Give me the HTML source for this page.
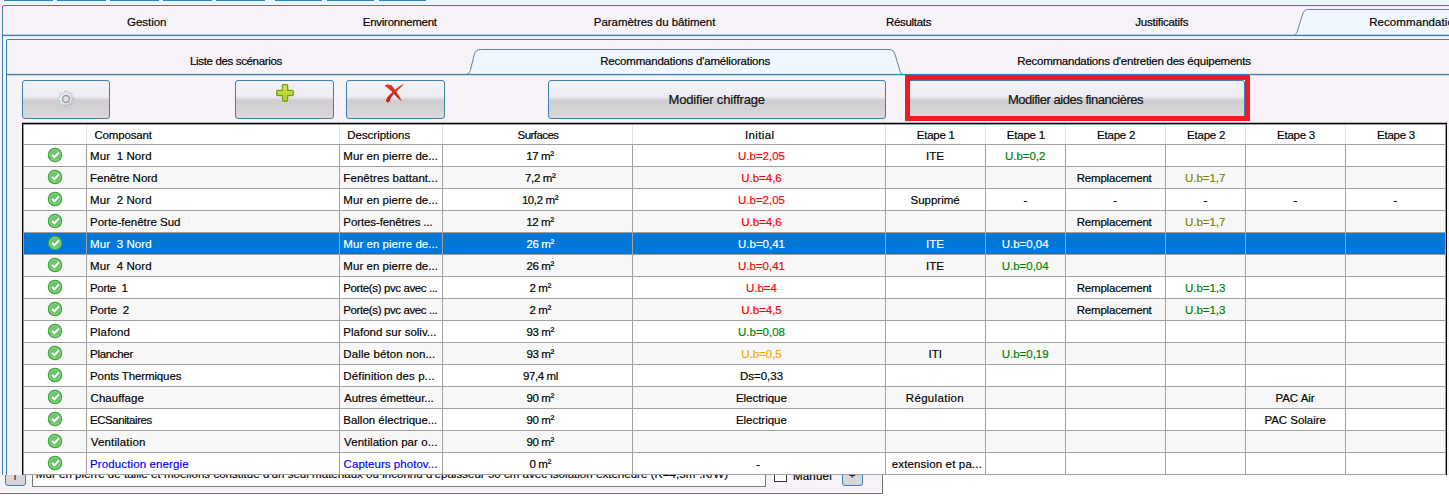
<!DOCTYPE html>
<html><head><meta charset="utf-8"><title>Recommandations</title>
<style>
html,body{margin:0;padding:0;}
body{width:1449px;height:496px;overflow:hidden;background:#F6F2F7;position:relative;font-family:"Liberation Sans",sans-serif;font-size:11.5px;}
.a{position:absolute;}
.t{position:absolute;white-space:pre;line-height:16px;height:16px;-webkit-text-stroke:0.18px currentColor;}
.btn{position:absolute;box-sizing:border-box;border:1px solid #3C7FB1;border-radius:3px;
 background:linear-gradient(to bottom,#F4F2F9 0%,#EFEDF4 40%,#EAE8EE 43.5%,#CFCDD0 52%,#D3D1D4 75%,#DBD9DB 100%);}
.seg{position:absolute;top:0;height:1px;background:#3C7FB1;}
.hl{position:absolute;height:1px;background:#A0A0A0;}
.vl{position:absolute;width:1px;background:#A0A0A0;}
#root{position:relative;width:1449px;height:496px;overflow:hidden;background:#F6F2F7;}
</style></head><body><div id="root">

<div class="seg" style="left:4px;width:49px"></div>
<div class="seg" style="left:57px;width:49px"></div>
<div class="seg" style="left:110px;width:49px"></div>
<div class="seg" style="left:163px;width:49px"></div>
<div class="seg" style="left:216px;width:49px"></div>
<div class="seg" style="left:275px;width:47px"></div>
<div class="seg" style="left:327px;width:47px"></div>
<div class="seg" style="left:379px;width:47px"></div>
<div class="a" style="left:2px;top:5px;width:1500px;height:520px;box-sizing:border-box;border:1.3px solid #3C7FB1;border-radius:2px 0 0 0"></div>
<div class="a" style="left:6px;top:39px;width:1500px;height:520px;box-sizing:border-box;border:1.3px solid #3C7FB1;border-radius:2px 0 0 0"></div>
<svg class="a" style="left:0;top:0" width="1449" height="80" viewBox="0 0 1449 80">
<path d="M1294.3 35 C1296 34.7 1296.8 33 1297.4 31 L1302.6 14.2 C1303.5 11.3 1305 9.5 1308.5 9.5 L1460 9.5 L1460 35 Z" fill="#EFF6FE"/>
<path d="M1294.3 35 C1296 34.7 1296.8 33 1297.4 31 L1302.6 14.2 C1303.5 11.3 1305 9.5 1308.5 9.5 L1460 9.5" fill="none" stroke="#6B7F93" stroke-width="1"/>
<path d="M467 74 C469.2 73.6 469.8 72 470.4 70 L474.4 54.3 C475.2 51.2 476.8 49.5 480.5 49.5 L888.8 49.5 C892.5 49.5 894.2 51.2 895 54.3 L899.7 70 C900.3 72 900.9 73.6 902.5 74 Z" fill="#EFF6FE"/>
<path d="M467 74 C469.2 73.6 469.8 72 470.4 70 L474.4 54.3 C475.2 51.2 476.8 49.5 480.5 49.5 L888.8 49.5 C892.5 49.5 894.2 51.2 895 54.3 L899.7 70 C900.3 72 900.9 73.6 902.5 74" fill="none" stroke="#6B7F93" stroke-width="1"/>
<rect x="3" y="34.7" width="1450" height="1.4" fill="#3C7FB1"/>
<rect x="7" y="73.9" width="1450" height="1.3" fill="#3C7FB1"/>
</svg>
<span class="t" id="t0" style="left:127.05px;top:14.00px;font-size:11.5px;letter-spacing:-0.040px;color:#000;">Gestion</span>
<span class="t" id="t1" style="left:362.75px;top:14.00px;font-size:11.5px;letter-spacing:-0.257px;color:#000;">Environnement</span>
<span class="t" id="t2" style="left:593.85px;top:14.00px;font-size:11.5px;letter-spacing:-0.056px;color:#000;">Paramètres du bâtiment</span>
<span class="t" id="t3" style="left:886.05px;top:14.00px;font-size:11.5px;letter-spacing:-0.326px;color:#000;">Résultats</span>
<span class="t" id="t4" style="left:1135.30px;top:14.00px;font-size:11.5px;letter-spacing:-0.252px;color:#000;">Justificatifs</span>
<span class="t" id="t5" style="left:1369.20px;top:14.00px;font-size:11.5px;letter-spacing:0.077px;color:#000;">Recommandations</span>
<span class="t" id="t6" style="left:190.05px;top:53.00px;font-size:11.5px;letter-spacing:-0.350px;color:#000;">Liste des scénarios</span>
<span class="t" id="t7" style="left:600.25px;top:53.00px;font-size:11.5px;letter-spacing:-0.204px;color:#000;">Recommandations d&#x27;améliorations</span>
<span class="t" id="t8" style="left:1017.20px;top:53.00px;font-size:11.5px;letter-spacing:-0.224px;color:#000;">Recommandations d&#x27;entretien des équipements</span>
<div class="btn" style="left:22px;top:80px;width:88px;height:39px"></div>
<div class="btn" style="left:235px;top:80px;width:99px;height:39px"></div>
<div class="btn" style="left:346px;top:80px;width:99px;height:39px"></div>
<div class="btn" style="left:548px;top:80px;width:338px;height:39px"></div>
<div class="btn" style="left:906px;top:80px;width:338.5px;height:39px"></div>
<span class="t" id="t9" style="left:668.60px;top:91.50px;font-size:13px;letter-spacing:-0.175px;color:#111;">Modifier chiffrage</span>
<span class="t" id="t10" style="left:1007.90px;top:91.50px;font-size:13px;letter-spacing:-0.468px;color:#111;">Modifier aides financières</span>
<div class="a" style="left:905px;top:75px;width:345px;height:46px;box-sizing:border-box;border:5px solid #ED1C24"></div>
<svg class="a" style="left:56px;top:89px" width="20" height="20" viewBox="-10 -10 20 20">
<defs><linearGradient id="gg" x1="0" y1="0" x2="1" y2="1"><stop offset="0" stop-color="#F4F6F6"/><stop offset="0.55" stop-color="#DADFE0"/><stop offset="1" stop-color="#AEBABE"/></linearGradient></defs>
<path fill="url(#gg)" stroke="#B3B9BB" stroke-width="0.7" stroke-linejoin="round" d="M7.91 -1.18 L7.91 1.18 L6.31 1.57 L5.57 3.35 L6.43 4.76 L4.76 6.43 L3.35 5.57 L1.57 6.31 L1.18 7.91 L-1.18 7.91 L-1.57 6.31 L-3.35 5.57 L-4.76 6.43 L-6.43 4.76 L-5.57 3.35 L-6.31 1.57 L-7.91 1.18 L-7.91 -1.18 L-6.31 -1.57 L-5.57 -3.35 L-6.43 -4.76 L-4.76 -6.43 L-3.35 -5.57 L-1.57 -6.31 L-1.18 -7.91 L1.18 -7.91 L1.57 -6.31 L3.35 -5.57 L4.76 -6.43 L6.43 -4.76 L5.57 -3.35 L6.31 -1.57 Z"/>
<circle r="4.7" fill="none" stroke="#F6F8F8" stroke-width="0.9" opacity="0.8"/>
<circle r="3.4" fill="#E4E2E6" stroke="#959B9D" stroke-width="1.5"/>
</svg>
<svg class="a" style="left:270px;top:78px" width="30" height="30" viewBox="270 78 30 30">
<defs><linearGradient id="pg" x1="0" y1="0" x2="0" y2="1"><stop offset="0" stop-color="#D6EC5C"/><stop offset="0.5" stop-color="#B9D636"/><stop offset="1" stop-color="#A7C828"/></linearGradient></defs>
<path d="M283.30 84.70 H286.70 Q287.70 84.70 287.70 85.70 V90.30 H292.30 Q293.30 90.30 293.30 91.30 V94.70 Q293.30 95.70 292.30 95.70 H287.70 V100.30 Q287.70 101.30 286.70 101.30 H283.30 Q282.30 101.30 282.30 100.30 V95.70 H277.70 Q276.70 95.70 276.70 94.70 V91.30 Q276.70 90.30 277.70 90.30 H282.30 V85.70 Q282.30 84.70 283.30 84.70 Z" fill="none" stroke="#F4F6EE" stroke-width="2.6" opacity="0.7"/>
<path d="M283.30 84.70 H286.70 Q287.70 84.70 287.70 85.70 V90.30 H292.30 Q293.30 90.30 293.30 91.30 V94.70 Q293.30 95.70 292.30 95.70 H287.70 V100.30 Q287.70 101.30 286.70 101.30 H283.30 Q282.30 101.30 282.30 100.30 V95.70 H277.70 Q276.70 95.70 276.70 94.70 V91.30 Q276.70 90.30 277.70 90.30 H282.30 V85.70 Q282.30 84.70 283.30 84.70 Z" fill="url(#pg)" stroke="#709B13" stroke-width="1.2"/>
</svg>
<svg class="a" style="left:375px;top:78px" width="40" height="30" viewBox="375 78 40 30">
<defs><linearGradient id="xg" x1="0" y1="0" x2="0" y2="1"><stop offset="0" stop-color="#E0392B"/><stop offset="1" stop-color="#C21D11"/></linearGradient></defs>
<path d="M384.9 85.9 C385.8 84.4 388.2 84 391.6 85.3 C393.4 87.4 394.8 89.6 395.9 91.4 C398.2 94.6 400.4 97.8 401.8 101 C399.3 99.6 396.4 96.9 393.2 93 C390.6 90.2 387.8 87.8 384.9 85.9 Z" fill="url(#xg)"/>
<path d="M404.3 84 C400.8 85.2 397.2 87.6 394.2 90.4 C390.6 93.6 387.2 96.8 386.2 99.4 C385.7 101.3 386.9 102.5 388.4 102.3 C389.7 101.9 390.1 100.7 390.4 99.3 C391.2 96.9 393.4 94.4 396 92.1 C398.8 89.3 401.4 86.5 404.3 84 Z" fill="url(#xg)"/>
</svg>
<div class="a" style="left:24px;top:125px;width:1422px;height:350px;background:#fff"></div>
<div class="a" style="left:24px;top:167px;width:1422px;height:21px;background:#F7F7F7"></div>
<div class="a" style="left:24px;top:211px;width:1422px;height:21px;background:#F7F7F7"></div>
<div class="a" style="left:24px;top:233px;width:1422px;height:21px;background:#0078D7"></div>
<div class="a" style="left:24px;top:255px;width:1422px;height:21px;background:#F7F7F7"></div>
<div class="a" style="left:24px;top:299px;width:1422px;height:21px;background:#F7F7F7"></div>
<div class="a" style="left:24px;top:343px;width:1422px;height:21px;background:#F7F7F7"></div>
<div class="a" style="left:24px;top:387px;width:1422px;height:21px;background:#F7F7F7"></div>
<div class="a" style="left:24px;top:431px;width:1422px;height:21px;background:#F7F7F7"></div>
<div class="hl" style="left:24px;top:144px;width:1422px"></div>
<div class="hl" style="left:24px;top:166px;width:1422px"></div>
<div class="hl" style="left:24px;top:188px;width:1422px"></div>
<div class="hl" style="left:24px;top:210px;width:1422px"></div>
<div class="hl" style="left:24px;top:232px;width:1422px"></div>
<div class="hl" style="left:24px;top:254px;width:1422px"></div>
<div class="hl" style="left:24px;top:276px;width:1422px"></div>
<div class="hl" style="left:24px;top:298px;width:1422px"></div>
<div class="hl" style="left:24px;top:320px;width:1422px"></div>
<div class="hl" style="left:24px;top:342px;width:1422px"></div>
<div class="hl" style="left:24px;top:364px;width:1422px"></div>
<div class="hl" style="left:24px;top:386px;width:1422px"></div>
<div class="hl" style="left:24px;top:408px;width:1422px"></div>
<div class="hl" style="left:24px;top:430px;width:1422px"></div>
<div class="hl" style="left:24px;top:452px;width:1422px"></div>
<div class="hl" style="left:24px;top:474px;width:1422px"></div>
<div class="vl" style="left:86px;top:145px;height:330px"></div>
<div class="vl" style="left:86px;top:125px;height:19px;background:#E2E2E2"></div>
<div class="vl" style="left:339px;top:145px;height:330px"></div>
<div class="vl" style="left:339px;top:125px;height:19px;background:#E2E2E2"></div>
<div class="vl" style="left:442px;top:145px;height:330px"></div>
<div class="vl" style="left:442px;top:125px;height:19px;background:#E2E2E2"></div>
<div class="vl" style="left:632px;top:145px;height:330px"></div>
<div class="vl" style="left:632px;top:125px;height:19px;background:#E2E2E2"></div>
<div class="vl" style="left:885px;top:145px;height:330px"></div>
<div class="vl" style="left:885px;top:125px;height:19px;background:#E2E2E2"></div>
<div class="vl" style="left:985px;top:145px;height:330px"></div>
<div class="vl" style="left:985px;top:125px;height:19px;background:#E2E2E2"></div>
<div class="vl" style="left:1065px;top:145px;height:330px"></div>
<div class="vl" style="left:1065px;top:125px;height:19px;background:#E2E2E2"></div>
<div class="vl" style="left:1165px;top:145px;height:330px"></div>
<div class="vl" style="left:1165px;top:125px;height:19px;background:#E2E2E2"></div>
<div class="vl" style="left:1245px;top:145px;height:330px"></div>
<div class="vl" style="left:1245px;top:125px;height:19px;background:#E2E2E2"></div>
<div class="vl" style="left:1345px;top:145px;height:330px"></div>
<div class="vl" style="left:1345px;top:125px;height:19px;background:#E2E2E2"></div>
<div class="vl" style="left:1445px;top:145px;height:330px"></div>
<div class="vl" style="left:1445px;top:125px;height:19px"></div>
<div class="a" style="left:22px;top:124px;width:1425px;height:1px;background:#A0A0A0"></div>
<div class="a" style="left:23px;top:124px;width:1px;height:351px;background:#9A9A9A"></div>
<div class="a" style="left:22px;top:122px;width:1425px;height:1px;background:#B9B6BA"></div>
<div class="a" style="left:22px;top:123px;width:1425px;height:1px;background:#000"></div>
<div class="a" style="left:22px;top:123px;width:1px;height:352px;background:#000"></div>
<div class="a" style="left:1446px;top:123px;width:1px;height:352px;background:#000"></div>
<span class="t" id="t11" style="left:94.45px;top:127.00px;font-size:11.5px;letter-spacing:-0.169px;color:#000;">Composant</span>
<span class="t" id="t12" style="left:347.25px;top:127.00px;font-size:11.5px;letter-spacing:-0.031px;color:#000;">Descriptions</span>
<span class="t" id="t13" style="left:517.60px;top:127.00px;font-size:11.5px;letter-spacing:-0.571px;color:#000;">Surfaces</span>
<span class="t" id="t14" style="left:745.05px;top:127.00px;font-size:11.5px;letter-spacing:0.344px;color:#000;">Initial</span>
<span class="t" id="t15" style="left:916.85px;top:127.00px;font-size:11.5px;letter-spacing:-0.252px;color:#000;">Etape 1</span>
<span class="t" id="t16" style="left:1006.75px;top:127.00px;font-size:11.5px;letter-spacing:-0.211px;color:#000;">Etape 1</span>
<span class="t" id="t17" style="left:1097.05px;top:127.00px;font-size:11.5px;letter-spacing:-0.211px;color:#000;">Etape 2</span>
<span class="t" id="t18" style="left:1187.05px;top:127.00px;font-size:11.5px;letter-spacing:-0.211px;color:#000;">Etape 2</span>
<span class="t" id="t19" style="left:1277.05px;top:127.00px;font-size:11.5px;letter-spacing:-0.252px;color:#000;">Etape 3</span>
<span class="t" id="t20" style="left:1377.05px;top:127.00px;font-size:11.5px;letter-spacing:-0.252px;color:#000;">Etape 3</span>
<svg class="a" style="left:47px;top:147.3px" width="16" height="16" viewBox="-8 -8 16 16">
<circle r="6.6" fill="#6DC56B" stroke="#3DA53A" stroke-width="1.3"/>
<circle r="5.5" fill="none" stroke="#A7DDA5" stroke-width="0.6"/>
<path d="M-2.9 -0.1 L-0.6 2.2 L3.9 -2.6" fill="none" stroke="#fff" stroke-width="2"/>
</svg>
<span class="t" id="t21" style="left:90.05px;top:148.00px;font-size:11.5px;letter-spacing:0.085px;color:#000;">Mur &nbsp;1 Nord</span>
<span class="t" id="t22" style="left:343.35px;top:148.00px;font-size:11.5px;letter-spacing:0.033px;color:#000;">Mur en pierre de...</span>
<span class="t" id="t23" style="left:526.34px;top:148.00px;font-size:11.5px;letter-spacing:-0.423px;color:#000;">17 m<span style="position:relative;top:-1.3px">²</span></span>
<span class="t" id="t24" style="left:738.09px;top:148.00px;font-size:11.5px;letter-spacing:-0.020px;color:#FA0000;">U.b=2,05</span>
<span class="t" id="t25" style="left:926.09px;top:148.00px;font-size:11.5px;letter-spacing:-0.021px;color:#000;">ITE</span>
<span class="t" id="t26" style="left:1004.95px;top:148.00px;font-size:11.5px;letter-spacing:-0.020px;color:#008000;">U.b=0,2</span>
<svg class="a" style="left:47px;top:169.3px" width="16" height="16" viewBox="-8 -8 16 16">
<circle r="6.6" fill="#6DC56B" stroke="#3DA53A" stroke-width="1.3"/>
<circle r="5.5" fill="none" stroke="#A7DDA5" stroke-width="0.6"/>
<path d="M-2.9 -0.1 L-0.6 2.2 L3.9 -2.6" fill="none" stroke="#fff" stroke-width="2"/>
</svg>
<span class="t" id="t27" style="left:90.05px;top:170.00px;font-size:11.5px;letter-spacing:-0.032px;color:#000;">Fenêtre Nord</span>
<span class="t" id="t28" style="left:343.35px;top:170.00px;font-size:11.5px;letter-spacing:0.064px;color:#000;">Fenêtres battant...</span>
<span class="t" id="t29" style="left:525.10px;top:170.00px;font-size:11.5px;letter-spacing:-0.391px;color:#000;">7,2 m<span style="position:relative;top:-1.3px">²</span></span>
<span class="t" id="t30" style="left:741.27px;top:170.00px;font-size:11.5px;letter-spacing:-0.020px;color:#FA0000;">U.b=4,6</span>
<span class="t" id="t31" style="left:1076.75px;top:170.00px;font-size:11.5px;letter-spacing:-0.207px;color:#000;">Remplacement</span>
<span class="t" id="t32" style="left:1184.95px;top:170.00px;font-size:11.5px;letter-spacing:-0.020px;color:#808000;">U.b=1,7</span>
<svg class="a" style="left:47px;top:191.3px" width="16" height="16" viewBox="-8 -8 16 16">
<circle r="6.6" fill="#6DC56B" stroke="#3DA53A" stroke-width="1.3"/>
<circle r="5.5" fill="none" stroke="#A7DDA5" stroke-width="0.6"/>
<path d="M-2.9 -0.1 L-0.6 2.2 L3.9 -2.6" fill="none" stroke="#fff" stroke-width="2"/>
</svg>
<span class="t" id="t33" style="left:90.05px;top:192.00px;font-size:11.5px;letter-spacing:0.085px;color:#000;">Mur &nbsp;2 Nord</span>
<span class="t" id="t34" style="left:343.35px;top:192.00px;font-size:11.5px;letter-spacing:0.033px;color:#000;">Mur en pierre de...</span>
<span class="t" id="t35" style="left:521.89px;top:192.00px;font-size:11.5px;letter-spacing:-0.401px;color:#000;">10,2 m<span style="position:relative;top:-1.3px">²</span></span>
<span class="t" id="t36" style="left:738.09px;top:192.00px;font-size:11.5px;letter-spacing:-0.020px;color:#FA0000;">U.b=2,05</span>
<span class="t" id="t37" style="left:910.60px;top:192.00px;font-size:11.5px;letter-spacing:-0.021px;color:#000;">Supprimé</span>
<span class="t" id="t38" style="left:1023.52px;top:192.00px;font-size:11.5px;letter-spacing:-0.013px;color:#000;">-</span>
<span class="t" id="t39" style="left:1113.22px;top:192.00px;font-size:11.5px;letter-spacing:-0.013px;color:#000;">-</span>
<span class="t" id="t40" style="left:1203.52px;top:192.00px;font-size:11.5px;letter-spacing:-0.013px;color:#000;">-</span>
<span class="t" id="t41" style="left:1293.52px;top:192.00px;font-size:11.5px;letter-spacing:-0.013px;color:#000;">-</span>
<span class="t" id="t42" style="left:1393.52px;top:192.00px;font-size:11.5px;letter-spacing:-0.013px;color:#000;">-</span>
<svg class="a" style="left:47px;top:213.3px" width="16" height="16" viewBox="-8 -8 16 16">
<circle r="6.6" fill="#6DC56B" stroke="#3DA53A" stroke-width="1.3"/>
<circle r="5.5" fill="none" stroke="#A7DDA5" stroke-width="0.6"/>
<path d="M-2.9 -0.1 L-0.6 2.2 L3.9 -2.6" fill="none" stroke="#fff" stroke-width="2"/>
</svg>
<span class="t" id="t43" style="left:90.05px;top:214.00px;font-size:11.5px;letter-spacing:-0.020px;color:#000;">Porte-fenêtre Sud</span>
<span class="t" id="t44" style="left:343.35px;top:214.00px;font-size:11.5px;letter-spacing:-0.112px;color:#000;">Portes-fenêtres ...</span>
<span class="t" id="t45" style="left:526.34px;top:214.00px;font-size:11.5px;letter-spacing:-0.423px;color:#000;">12 m<span style="position:relative;top:-1.3px">²</span></span>
<span class="t" id="t46" style="left:741.27px;top:214.00px;font-size:11.5px;letter-spacing:-0.020px;color:#FA0000;">U.b=4,6</span>
<span class="t" id="t47" style="left:1076.75px;top:214.00px;font-size:11.5px;letter-spacing:-0.207px;color:#000;">Remplacement</span>
<span class="t" id="t48" style="left:1184.95px;top:214.00px;font-size:11.5px;letter-spacing:-0.020px;color:#808000;">U.b=1,7</span>
<svg class="a" style="left:47px;top:235.3px" width="16" height="16" viewBox="-8 -8 16 16">
<circle r="6.6" fill="#6DC56B" stroke="#3DA53A" stroke-width="1.3"/>
<circle r="5.5" fill="none" stroke="#A7DDA5" stroke-width="0.6"/>
<path d="M-2.9 -0.1 L-0.6 2.2 L3.9 -2.6" fill="none" stroke="#fff" stroke-width="2"/>
</svg>
<span class="t" id="t49" style="left:90.05px;top:236.00px;font-size:11.5px;letter-spacing:0.085px;color:#fff;">Mur &nbsp;3 Nord</span>
<span class="t" id="t50" style="left:343.35px;top:236.00px;font-size:11.5px;letter-spacing:0.033px;color:#fff;">Mur en pierre de...</span>
<span class="t" id="t51" style="left:526.59px;top:236.00px;font-size:11.5px;letter-spacing:-0.423px;color:#fff;">26 m<span style="position:relative;top:-1.3px">²</span></span>
<span class="t" id="t52" style="left:738.09px;top:236.00px;font-size:11.5px;letter-spacing:-0.020px;color:#fff;">U.b=0,41</span>
<span class="t" id="t53" style="left:926.09px;top:236.00px;font-size:11.5px;letter-spacing:-0.021px;color:#fff;">ITE</span>
<span class="t" id="t54" style="left:1001.76px;top:236.00px;font-size:11.5px;letter-spacing:-0.020px;color:#fff;">U.b=0,04</span>
<svg class="a" style="left:47px;top:257.3px" width="16" height="16" viewBox="-8 -8 16 16">
<circle r="6.6" fill="#6DC56B" stroke="#3DA53A" stroke-width="1.3"/>
<circle r="5.5" fill="none" stroke="#A7DDA5" stroke-width="0.6"/>
<path d="M-2.9 -0.1 L-0.6 2.2 L3.9 -2.6" fill="none" stroke="#fff" stroke-width="2"/>
</svg>
<span class="t" id="t55" style="left:90.05px;top:258.00px;font-size:11.5px;letter-spacing:0.085px;color:#000;">Mur &nbsp;4 Nord</span>
<span class="t" id="t56" style="left:343.35px;top:258.00px;font-size:11.5px;letter-spacing:0.033px;color:#000;">Mur en pierre de...</span>
<span class="t" id="t57" style="left:526.59px;top:258.00px;font-size:11.5px;letter-spacing:-0.423px;color:#000;">26 m<span style="position:relative;top:-1.3px">²</span></span>
<span class="t" id="t58" style="left:738.09px;top:258.00px;font-size:11.5px;letter-spacing:-0.020px;color:#FA0000;">U.b=0,41</span>
<span class="t" id="t59" style="left:926.09px;top:258.00px;font-size:11.5px;letter-spacing:-0.021px;color:#000;">ITE</span>
<span class="t" id="t60" style="left:1001.76px;top:258.00px;font-size:11.5px;letter-spacing:-0.020px;color:#008000;">U.b=0,04</span>
<svg class="a" style="left:47px;top:279.3px" width="16" height="16" viewBox="-8 -8 16 16">
<circle r="6.6" fill="#6DC56B" stroke="#3DA53A" stroke-width="1.3"/>
<circle r="5.5" fill="none" stroke="#A7DDA5" stroke-width="0.6"/>
<path d="M-2.9 -0.1 L-0.6 2.2 L3.9 -2.6" fill="none" stroke="#fff" stroke-width="2"/>
</svg>
<span class="t" id="t61" style="left:90.05px;top:280.00px;font-size:11.5px;letter-spacing:-0.345px;color:#000;">Porte &nbsp;1</span>
<span class="t" id="t62" style="left:343.35px;top:280.00px;font-size:11.5px;letter-spacing:-0.393px;color:#000;">Porte(s) pvc avec ...</span>
<span class="t" id="t63" style="left:529.55px;top:280.00px;font-size:11.5px;letter-spacing:-0.414px;color:#000;">2 m<span style="position:relative;top:-1.3px">²</span></span>
<span class="t" id="t64" style="left:745.93px;top:280.00px;font-size:11.5px;letter-spacing:-0.022px;color:#FA0000;">U.b=4</span>
<span class="t" id="t65" style="left:1076.75px;top:280.00px;font-size:11.5px;letter-spacing:-0.207px;color:#000;">Remplacement</span>
<span class="t" id="t66" style="left:1184.95px;top:280.00px;font-size:11.5px;letter-spacing:-0.020px;color:#008000;">U.b=1,3</span>
<svg class="a" style="left:47px;top:301.3px" width="16" height="16" viewBox="-8 -8 16 16">
<circle r="6.6" fill="#6DC56B" stroke="#3DA53A" stroke-width="1.3"/>
<circle r="5.5" fill="none" stroke="#A7DDA5" stroke-width="0.6"/>
<path d="M-2.9 -0.1 L-0.6 2.2 L3.9 -2.6" fill="none" stroke="#fff" stroke-width="2"/>
</svg>
<span class="t" id="t67" style="left:90.05px;top:302.00px;font-size:11.5px;letter-spacing:-0.161px;color:#000;">Porte &nbsp;2</span>
<span class="t" id="t68" style="left:343.35px;top:302.00px;font-size:11.5px;letter-spacing:-0.393px;color:#000;">Porte(s) pvc avec ...</span>
<span class="t" id="t69" style="left:529.55px;top:302.00px;font-size:11.5px;letter-spacing:-0.414px;color:#000;">2 m<span style="position:relative;top:-1.3px">²</span></span>
<span class="t" id="t70" style="left:741.27px;top:302.00px;font-size:11.5px;letter-spacing:-0.020px;color:#FA0000;">U.b=4,5</span>
<span class="t" id="t71" style="left:1076.75px;top:302.00px;font-size:11.5px;letter-spacing:-0.207px;color:#000;">Remplacement</span>
<span class="t" id="t72" style="left:1184.95px;top:302.00px;font-size:11.5px;letter-spacing:-0.020px;color:#008000;">U.b=1,3</span>
<svg class="a" style="left:47px;top:323.3px" width="16" height="16" viewBox="-8 -8 16 16">
<circle r="6.6" fill="#6DC56B" stroke="#3DA53A" stroke-width="1.3"/>
<circle r="5.5" fill="none" stroke="#A7DDA5" stroke-width="0.6"/>
<path d="M-2.9 -0.1 L-0.6 2.2 L3.9 -2.6" fill="none" stroke="#fff" stroke-width="2"/>
</svg>
<span class="t" id="t73" style="left:90.05px;top:324.00px;font-size:11.5px;letter-spacing:0.156px;color:#000;">Plafond</span>
<span class="t" id="t74" style="left:343.35px;top:324.00px;font-size:11.5px;letter-spacing:-0.003px;color:#000;">Plafond sur soliv...</span>
<span class="t" id="t75" style="left:526.59px;top:324.00px;font-size:11.5px;letter-spacing:-0.423px;color:#000;">93 m<span style="position:relative;top:-1.3px">²</span></span>
<span class="t" id="t76" style="left:738.09px;top:324.00px;font-size:11.5px;letter-spacing:-0.020px;color:#008000;">U.b=0,08</span>
<svg class="a" style="left:47px;top:345.3px" width="16" height="16" viewBox="-8 -8 16 16">
<circle r="6.6" fill="#6DC56B" stroke="#3DA53A" stroke-width="1.3"/>
<circle r="5.5" fill="none" stroke="#A7DDA5" stroke-width="0.6"/>
<path d="M-2.9 -0.1 L-0.6 2.2 L3.9 -2.6" fill="none" stroke="#fff" stroke-width="2"/>
</svg>
<span class="t" id="t77" style="left:90.05px;top:346.00px;font-size:11.5px;letter-spacing:-0.309px;color:#000;">Plancher</span>
<span class="t" id="t78" style="left:343.35px;top:346.00px;font-size:11.5px;letter-spacing:0.106px;color:#000;">Dalle béton non...</span>
<span class="t" id="t79" style="left:526.59px;top:346.00px;font-size:11.5px;letter-spacing:-0.423px;color:#000;">93 m<span style="position:relative;top:-1.3px">²</span></span>
<span class="t" id="t80" style="left:741.27px;top:346.00px;font-size:11.5px;letter-spacing:-0.020px;color:#FFA500;">U.b=0,5</span>
<span class="t" id="t81" style="left:928.57px;top:346.00px;font-size:11.5px;letter-spacing:-0.016px;color:#000;">ITI</span>
<span class="t" id="t82" style="left:1001.76px;top:346.00px;font-size:11.5px;letter-spacing:-0.020px;color:#008000;">U.b=0,19</span>
<svg class="a" style="left:47px;top:367.3px" width="16" height="16" viewBox="-8 -8 16 16">
<circle r="6.6" fill="#6DC56B" stroke="#3DA53A" stroke-width="1.3"/>
<circle r="5.5" fill="none" stroke="#A7DDA5" stroke-width="0.6"/>
<path d="M-2.9 -0.1 L-0.6 2.2 L3.9 -2.6" fill="none" stroke="#fff" stroke-width="2"/>
</svg>
<span class="t" id="t83" style="left:90.05px;top:368.00px;font-size:11.5px;letter-spacing:-0.116px;color:#000;">Ponts Thermiques</span>
<span class="t" id="t84" style="left:343.35px;top:368.00px;font-size:11.5px;letter-spacing:0.139px;color:#000;">Définition des p...</span>
<span class="t" id="t85" style="left:522.98px;top:368.00px;font-size:11.5px;letter-spacing:-0.388px;color:#000;">97,4 ml</span>
<span class="t" id="t86" style="left:740.00px;top:368.00px;font-size:11.5px;letter-spacing:-0.021px;color:#000;">Ds=0,33</span>
<svg class="a" style="left:47px;top:389.3px" width="16" height="16" viewBox="-8 -8 16 16">
<circle r="6.6" fill="#6DC56B" stroke="#3DA53A" stroke-width="1.3"/>
<circle r="5.5" fill="none" stroke="#A7DDA5" stroke-width="0.6"/>
<path d="M-2.9 -0.1 L-0.6 2.2 L3.9 -2.6" fill="none" stroke="#fff" stroke-width="2"/>
</svg>
<span class="t" id="t87" style="left:90.55px;top:390.00px;font-size:11.5px;letter-spacing:0.054px;color:#000;">Chauffage</span>
<span class="t" id="t88" style="left:344.10px;top:390.00px;font-size:11.5px;letter-spacing:-0.065px;color:#000;">Autres émetteur...</span>
<span class="t" id="t89" style="left:526.59px;top:390.00px;font-size:11.5px;letter-spacing:-0.423px;color:#000;">90 m<span style="position:relative;top:-1.3px">²</span></span>
<span class="t" id="t90" style="left:735.90px;top:390.00px;font-size:11.5px;letter-spacing:-0.018px;color:#000;">Electrique</span>
<span class="t" id="t91" style="left:905.80px;top:390.00px;font-size:11.5px;letter-spacing:0.315px;color:#000;">Régulation</span>
<span class="t" id="t92" style="left:1275.41px;top:390.00px;font-size:11.5px;letter-spacing:-0.020px;color:#000;">PAC Air</span>
<svg class="a" style="left:47px;top:411.3px" width="16" height="16" viewBox="-8 -8 16 16">
<circle r="6.6" fill="#6DC56B" stroke="#3DA53A" stroke-width="1.3"/>
<circle r="5.5" fill="none" stroke="#A7DDA5" stroke-width="0.6"/>
<path d="M-2.9 -0.1 L-0.6 2.2 L3.9 -2.6" fill="none" stroke="#fff" stroke-width="2"/>
</svg>
<span class="t" id="t93" style="left:90.05px;top:412.00px;font-size:11.5px;letter-spacing:-0.451px;color:#000;">ECSanitaires</span>
<span class="t" id="t94" style="left:343.35px;top:412.00px;font-size:11.5px;letter-spacing:-0.034px;color:#000;">Ballon électrique...</span>
<span class="t" id="t95" style="left:526.59px;top:412.00px;font-size:11.5px;letter-spacing:-0.423px;color:#000;">90 m<span style="position:relative;top:-1.3px">²</span></span>
<span class="t" id="t96" style="left:735.90px;top:412.00px;font-size:11.5px;letter-spacing:-0.018px;color:#000;">Electrique</span>
<span class="t" id="t97" style="left:1264.39px;top:412.00px;font-size:11.5px;letter-spacing:-0.020px;color:#000;">PAC Solaire</span>
<svg class="a" style="left:47px;top:433.3px" width="16" height="16" viewBox="-8 -8 16 16">
<circle r="6.6" fill="#6DC56B" stroke="#3DA53A" stroke-width="1.3"/>
<circle r="5.5" fill="none" stroke="#A7DDA5" stroke-width="0.6"/>
<path d="M-2.9 -0.1 L-0.6 2.2 L3.9 -2.6" fill="none" stroke="#fff" stroke-width="2"/>
</svg>
<span class="t" id="t98" style="left:90.80px;top:434.00px;font-size:11.5px;letter-spacing:0.146px;color:#000;">Ventilation</span>
<span class="t" id="t99" style="left:344.10px;top:434.00px;font-size:11.5px;letter-spacing:0.067px;color:#000;">Ventilation par o...</span>
<span class="t" id="t100" style="left:526.59px;top:434.00px;font-size:11.5px;letter-spacing:-0.423px;color:#000;">90 m<span style="position:relative;top:-1.3px">²</span></span>
<svg class="a" style="left:47px;top:455.3px" width="16" height="16" viewBox="-8 -8 16 16">
<circle r="6.6" fill="#6DC56B" stroke="#3DA53A" stroke-width="1.3"/>
<circle r="5.5" fill="none" stroke="#A7DDA5" stroke-width="0.6"/>
<path d="M-2.9 -0.1 L-0.6 2.2 L3.9 -2.6" fill="none" stroke="#fff" stroke-width="2"/>
</svg>
<span class="t" id="t101" style="left:90.05px;top:456.00px;font-size:11.5px;letter-spacing:0.119px;color:#0000FF;">Production energie</span>
<span class="t" id="t102" style="left:343.60px;top:456.00px;font-size:11.5px;letter-spacing:0.046px;color:#0000FF;">Capteurs photov...</span>
<span class="t" id="t103" style="left:529.55px;top:456.00px;font-size:11.5px;letter-spacing:-0.414px;color:#000;">0 m<span style="position:relative;top:-1.3px">²</span></span>
<span class="t" id="t104" style="left:756.37px;top:456.00px;font-size:11.5px;letter-spacing:-0.013px;color:#000;">-</span>
<span class="t" id="t105" style="left:891.70px;top:456.00px;font-size:11.5px;letter-spacing:0.150px;color:#000;">extension et pa...</span>
<div class="a" style="left:883px;top:475px;width:566px;height:21px;background:#fff"></div>
<div class="a" style="left:0;top:494px;width:1449px;height:2px;background:#fff"></div>
<div class="a" style="left:0;top:475px;width:882px;height:18px;background:#F6F2F7;overflow:hidden">
<div class="btn" style="left:5px;top:-13px;width:21px;height:24px;background:#D8D6D9"></div>
<div class="a" style="left:32px;top:-13px;width:734px;height:25px;box-sizing:border-box;border:1px solid #7A7A7A;background:#fff"></div>
<div class="a" style="left:773.5px;top:-6px;width:13.5px;height:13px;box-sizing:border-box;border:1px solid #333;background:#fff"></div>
<div class="btn" style="left:842px;top:-13px;width:21px;height:24px;background:#D8D6D9"></div>
<span class="t" id="t106" style="left:35.85px;top:-9.00px;font-size:11.5px;letter-spacing:0.031px;color:#000;">Mur en pierre de taille et moellons constitué d&#x27;un seul matériaux ou inconnu d&#x27;épaisseur 50 cm avec isolation extérieure (R=4,5m<span style="position:relative;top:-1.3px">²</span>.K/W)</span>
<span class="t" id="t107" style="left:792.90px;top:-7.00px;font-size:11.5px;letter-spacing:0.237px;color:#000;">Manuel</span>
<span class="t" id="t108" style="left:13.40px;top:-7.00px;font-size:11px;letter-spacing:0.128px;color:#333;">I</span>
<span class="t" id="t109" style="left:849.10px;top:-8.00px;font-size:11px;letter-spacing:0.269px;color:#222;">+</span>
</div>
<div class="a" style="left:0;top:492px;width:882px;height:1px;background:#FDFBFD"></div>
<div class="a" style="left:881px;top:475px;width:1px;height:18px;background:#FDFBFD"></div>
<div class="a" style="left:0;top:493px;width:883px;height:1px;background:#6E6E6E"></div>
<div class="a" style="left:882px;top:475px;width:1px;height:19px;background:#6E6E6E"></div>
</div></body></html>
